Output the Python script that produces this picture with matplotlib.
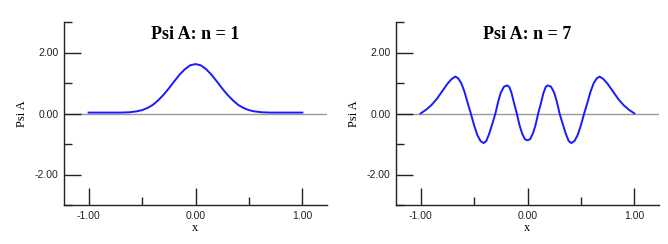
import matplotlib.pyplot as plt
from matplotlib.ticker import MultipleLocator, FormatStrFormatter

# n = 1
x1 = [-1.00, -0.90, -0.80, -0.70, -0.62, -0.55, -0.50, -0.45, -0.40, -0.35, -0.30,
      -0.25, -0.20, -0.15, -0.10, -0.05, 0.00, 0.05, 0.10, 0.15, 0.20, 0.25,
      0.30, 0.35, 0.40, 0.45, 0.50, 0.55, 0.62, 0.70, 0.80, 0.90, 1.00]
psi1 = [0.03, 0.03, 0.03, 0.03, 0.04, 0.07, 0.11, 0.18, 0.28, 0.43, 0.61,
        0.82, 1.05, 1.27, 1.45, 1.58, 1.62, 1.58, 1.45, 1.27, 1.05, 0.82,
        0.61, 0.43, 0.28, 0.18, 0.11, 0.07, 0.04, 0.03, 0.03, 0.03, 0.03]

# n = 7
x7 = [-1.00, -0.95, -0.90, -0.85, -0.80, -0.75, -0.71, -0.675, -0.65, -0.62,
      -0.59, -0.56, -0.53, -0.50, -0.47, -0.44, -0.41, -0.385, -0.36, -0.33,
      -0.30, -0.275, -0.25, -0.22, -0.19, -0.17, -0.15, -0.125, -0.10, -0.075,
      -0.05, -0.025, 0.00, 0.025, 0.05, 0.075, 0.10, 0.125, 0.15, 0.17,
      0.19, 0.22, 0.25, 0.275, 0.30, 0.33, 0.36, 0.385, 0.41, 0.44,
      0.47, 0.50, 0.53, 0.56, 0.59, 0.62, 0.65, 0.675, 0.71, 0.75,
      0.80, 0.85, 0.90, 0.95, 1.00]
psi7 = [0.00, 0.12, 0.27, 0.47, 0.72, 0.97, 1.13, 1.21, 1.16, 1.00,
        0.72, 0.35, 0.00, -0.38, -0.70, -0.90, -0.97, -0.90, -0.68, -0.35,
        0.00, 0.38, 0.68, 0.88, 0.92, 0.87, 0.68, 0.33, 0.00, -0.38,
        -0.66, -0.84, -0.88, -0.84, -0.66, -0.38, 0.00, 0.33, 0.68, 0.87,
        0.92, 0.88, 0.68, 0.38, 0.00, -0.35, -0.68, -0.90, -0.97, -0.90,
        -0.70, -0.38, 0.00, 0.35, 0.72, 1.00, 1.16, 1.21, 1.13, 0.97,
        0.72, 0.47, 0.27, 0.12, 0.00]

panels = [(x1, psi1, "Psi A: n = 1"), (x7, psi7, "Psi A: n = 7")]
lefts = [64 / 668, 396 / 668]

fig = plt.figure(figsize=(6.68, 2.44), dpi=100)

for (x, y, title), left in zip(panels, lefts):
    ax = fig.add_axes([left, 39 / 244, 263 / 668, 183 / 244])
    ax.axhline(0, color="#999999", lw=1.0, zorder=1)
    ax.plot(x, y, color="#1a1aff", lw=1.4, zorder=2)
    ax.set_xlim(-1.23, 1.23)
    ax.set_ylim(-3, 3)
    for s in ["top", "right"]:
        ax.spines[s].set_visible(False)
    for s in ["left", "bottom"]:
        ax.spines[s].set_color("#222222")
        ax.spines[s].set_linewidth(1.0)
    ax.xaxis.set_major_locator(MultipleLocator(1))
    ax.xaxis.set_minor_locator(MultipleLocator(0.5))
    ax.yaxis.set_major_locator(MultipleLocator(2))
    ax.yaxis.set_minor_locator(MultipleLocator(1))
    ax.xaxis.set_major_formatter(FormatStrFormatter("%.2f"))
    ax.yaxis.set_major_formatter(FormatStrFormatter("%.2f"))
    ax.tick_params(which="major", direction="in", length=12, width=1, color="#222222",
                   labelsize=7.5, pad=4)
    ax.tick_params(which="minor", direction="in", length=6, width=1, color="#222222")
    for lab in ax.get_xticklabels() + ax.get_yticklabels():
        lab.set_family("Liberation Sans")
        lab.set_color("#222222")
    ax.set_xlabel("x", family="Liberation Serif", fontsize=9, labelpad=1)
    ax.set_ylabel("Psi A", family="Liberation Serif", fontsize=9, labelpad=5)
    ax.text(0, 2.6, title, ha="center", va="center", family="Liberation Serif",
            fontweight="bold", fontsize=13)

fig.savefig("out.png", dpi=100)
